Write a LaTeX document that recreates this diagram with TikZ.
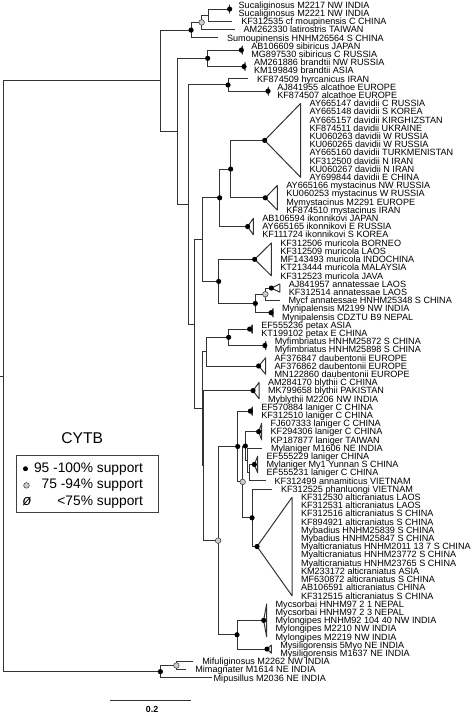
\documentclass[tikz,border=0pt]{standalone}
\usepackage{fontspec}
\setmainfont{Liberation Sans}
\usetikzlibrary{positioning}

\begin{document}
\begin{tikzpicture}[x=1pt, y=-8.21pt,
  branch/.style={draw=black!80, line width=1pt},
  clade/.style={draw=black!80, line width=1pt, line join=round},
  leaf/.style={anchor=west, inner sep=0pt, outer xsep=9pt, outer ysep=0pt,
    text height=6.5pt, text depth=0pt, font=\fontsize{9.1}{10}\selectfont},
  bdot/.style={fill=black},
  gdot/.style={fill=gray!40, draw=black!80, line width=0.5pt}]

  % page frame (pixel units)
  \begin{scope}[y=-1pt, yshift=-3.21pt]
    \useasboundingbox (0,0) rectangle (474,716);
  \end{scope}

  % tip labels
  \node[leaf] (l1) at (229.3,1) {Sucaliginosus M2217 NW INDIA};
  \node[leaf] (l2) at (229.3,2) {Sucaliginosus M2221 NW INDIA};
  \node[leaf] (l3) at (232,3) {KF312535 cf moupinensis C CHINA};
  \node[leaf] (l4) at (234.3,4) {AM262330 latirostris TAIWAN};
  \node[leaf] (l5) at (217.7,5) {Sumoupinensis HNHM26564 S CHINA};
  \node[leaf] (l6) at (242,6) {AB106609 sibiricus JAPAN};
  \node[leaf] (l7) at (242,7) {MG897530 sibiricus C RUSSIA};
  \node[leaf] (l8) at (244.7,8) {AM261886 brandtii NW RUSSIA};
  \node[leaf] (l9) at (244.7,9) {KM199849 brandtii ASIA};
  \node[leaf] (l10) at (247.7,10) {KF874509 hyrcanicus IRAN};
  \node[leaf] (l11) at (268,11) {AJ841955 alcathoe EUROPE};
  \node[leaf] (l12) at (268,12) {KF874507 alcathoe EUROPE};
  \node[leaf] (l13) at (300.3,13) {AY665147 davidii C RUSSIA};
  \node[leaf] (l14) at (300.3,14) {AY665148 davidii S KOREA};
  \node[leaf] (l15) at (300.3,15) {AY665157 davidii KIRGHIZSTAN};
  \node[leaf] (l16) at (300.3,16) {KF874511 davidii UKRAINE};
  \node[leaf] (l17) at (300.3,17) {KU060263 davidii W RUSSIA};
  \node[leaf] (l18) at (300.3,18) {KU060265 davidii W RUSSIA};
  \node[leaf] (l19) at (300.3,19) {AY665160 davidii TURKMENISTAN};
  \node[leaf] (l20) at (300.3,20) {KF312500 davidii N IRAN};
  \node[leaf] (l21) at (300.3,21) {KU060267 davidii N IRAN};
  \node[leaf] (l22) at (300.3,22) {AY699844 davidii E CHINA};
  \node[leaf] (l23) at (277,23) {AY665166 mystacinus NW RUSSIA};
  \node[leaf] (l24) at (277,24) {KU060253 mystacinus W RUSSIA};
  \node[leaf] (l25) at (277,25) {Mymystacinus M2291 EUROPE};
  \node[leaf] (l26) at (277,26) {KF874510 mystacinus IRAN};
  \node[leaf] (l27) at (253,27) {AB106594 ikonnikovi JAPAN};
  \node[leaf] (l28) at (253,28) {AY665165 ikonnikovi E RUSSIA};
  \node[leaf] (l29) at (253,29) {KF111724 ikonnikovi S KOREA};
  \node[leaf] (l30) at (271,30) {KF312506 muricola BORNEO};
  \node[leaf] (l31) at (271,31) {KF312509 muricola LAOS};
  \node[leaf] (l32) at (271,32) {MF143493 muricola INDOCHINA};
  \node[leaf] (l33) at (271,33) {KT213444 muricola MALAYSIA};
  \node[leaf] (l34) at (271,34) {KF312523 muricola JAVA};
  \node[leaf] (l35) at (279.5,35) {AJ841957 annatessae LAOS};
  \node[leaf] (l36) at (279.5,36) {KF312514 annatessae LAOS};
  \node[leaf] (l37) at (279.3,37) {Mycf annatessae HNHM25348 S CHINA};
  \node[leaf] (l38) at (272.7,38) {Mynipalensis M2199 NW INDIA};
  \node[leaf] (l39) at (272.7,39) {Mynipalensis CDZTU B9 NEPAL};
  \node[leaf] (l40) at (252,40) {EF555236 petax ASIA};
  \node[leaf] (l41) at (252,41) {KT199102 petax E CHINA};
  \node[leaf] (l42) at (265.5,42) {Myfimbriatus HNHM25872 S CHINA};
  \node[leaf] (l43) at (265.5,43) {Myfimbriatus HNHM25898 S CHINA};
  \node[leaf] (l44) at (265.3,44) {AF376847 daubentonii EUROPE};
  \node[leaf] (l45) at (265.3,45) {AF376862 daubentonii EUROPE};
  \node[leaf] (l46) at (265.3,46) {MN122860 daubentonii EUROPE};
  \node[leaf] (l47) at (258.7,47) {AM284170 blythii C CHINA};
  \node[leaf] (l48) at (258.7,48) {MK799658 blythii PAKISTAN};
  \node[leaf] (l49) at (258.7,49) {Myblythii M2206 NW INDIA};
  \node[leaf] (l50) at (252,50) {EF570884 laniger C CHINA};
  \node[leaf] (l51) at (252,51) {KF312510 laniger C CHINA};
  \node[leaf] (l52) at (261.3,52) {FJ607333 laniger C CHINA};
  \node[leaf] (l53) at (261.3,53) {KF294306 laniger C CHINA};
  \node[leaf] (l54) at (261.3,54) {KP187877 laniger TAIWAN};
  \node[leaf] (l55) at (261.7,55) {Mylaniger M1606 NE INDIA};
  \node[leaf] (l56) at (257.3,56) {EF555229 laniger CHINA};
  \node[leaf] (l57) at (257.3,57) {Mylaniger My1 Yunnan S CHINA};
  \node[leaf] (l58) at (257.3,58) {EF555231 laniger C CHINA};
  \node[leaf] (l59) at (265.3,59) {KF312499 annamiticus VIETNAM};
  \node[leaf] (l60) at (271.7,60) {KF312525 phanluongi VIETNAM};
  \node[leaf] (l61) at (291.7,61) {KF312530 alticraniatus LAOS};
  \node[leaf] (l62) at (291.7,62) {KF312531 alticraniatus LAOS};
  \node[leaf] (l63) at (291.7,63) {KF312516 alticraniatus S CHINA};
  \node[leaf] (l64) at (291.7,64) {KF894921 alticraniatus S CHINA};
  \node[leaf] (l65) at (291.7,65) {Mybadius HNHM25839 S CHINA};
  \node[leaf] (l66) at (291.7,66) {Mybadius HNHM25847 S CHINA};
  \node[leaf] (l67) at (291.7,67) {Myalticraniatus HNHM2011 13 7 S CHINA};
  \node[leaf] (l68) at (291.7,68) {Myalticraniatus HNHM23772 S CHINA};
  \node[leaf] (l69) at (291.7,69) {Myalticraniatus HNHM23765 S CHINA};
  \node[leaf] (l70) at (291.7,70) {KM233172 alticraniatus ASIA};
  \node[leaf] (l71) at (291.7,71) {MF630872 alticraniatus S CHINA};
  \node[leaf] (l72) at (291.7,72) {AB106591 alticraniatus CHINA};
  \node[leaf] (l73) at (291.7,73) {KF312515 alticraniatus S CHINA};
  \node[leaf] (l74) at (266.3,74) {Mycsorbai HNHM97 2 1 NEPAL};
  \node[leaf] (l75) at (266.3,75) {Mycsorbai HNHM97 2 3 NEPAL};
  \node[leaf] (l76) at (266.3,76) {Mylongipes HNHM92 104 40 NW INDIA};
  \node[leaf] (l77) at (266.3,77) {Mylongipes M2210 NW INDIA};
  \node[leaf] (l78) at (266.3,78) {Mylongipes M2219 NW INDIA};
  \node[leaf] (l79) at (271,79) {Mysiligorensis 5Myo NE INDIA};
  \node[leaf] (l80) at (271,80) {Mysiligorensis M1637 NE INDIA};
  \node[leaf] (l81) at (193,81) {Mifuliginosus M2262 NW INDIA};
  \node[leaf] (l82) at (186,82) {Mimagnater M1614 NE INDIA};
  \node[leaf, outer xsep=2pt] (l83) at (211.3,83) {Mipusillus M2036 NE INDIA};

  % internal nodes
  \coordinate (base) at (0,46.24);
  \coordinate (R0) at (3.3,46.24);
  \coordinate (X) at (160,10.24);
  \coordinate (A) at (190.7,4.0625);
  \coordinate (B) at (201.3,3.125);
  \coordinate (C) at (208.3,2.25);
  \coordinate (D) at (229.3,1.5);
  \coordinate (Y) at (177.3,16.41);
  \coordinate (E) at (207.3,7.5);
  \coordinate (sib) at (241,6.5);
  \coordinate (bra) at (243.7,8.5);
  \coordinate (Z) at (188.3,25.32);
  \coordinate (F) at (227.7,10.75);
  \coordinate (alc) at (267.7,11.5);
  \coordinate (W) at (194.3,39.89);
  \coordinate (I) at (201.7,29.59);
  \coordinate (G) at (219.3,24.5);
  \coordinate (H) at (230.3,21);
  \coordinate (dav) at (264.3,17.5);
  \coordinate (mys) at (265,24.5);
  \coordinate (ik) at (247.3,28);
  \coordinate (J) at (218.3,34.69);
  \coordinate (mur) at (254.3,32);
  \coordinate (K) at (255,37.375);
  \coordinate (L) at (265,36.25);
  \coordinate (ann) at (271,35.5);
  \coordinate (nip) at (270.7,38.5);
  \coordinate (V) at (201.7,50.2);
  \coordinate (Q) at (205.7,43.25);
  \coordinate (PF) at (228.3,41.5);
  \coordinate (pet) at (249.3,40.5);
  \coordinate (fim) at (264.5,42.5);
  \coordinate (dau) at (258.3,45);
  \coordinate (R) at (203.5,57.14);
  \coordinate (bly) at (252.7,48);
  \coordinate (P) at (217.7,66.28);
  \coordinate (M) at (237.3,54.81);
  \coordinate (lanA) at (250,50.5);
  \coordinate (T) at (242.3,59.125);
  \coordinate (U) at (245,54.75);
  \coordinate (lanB) at (258.3,53);
  \coordinate (U1) at (246.7,56.5);
  \coordinate (U2) at (249.3,58);
  \coordinate (lanC) at (254,57);
  \coordinate (S) at (251.7,63.5);
  \coordinate (alt) at (256.7,67);
  \coordinate (N) at (236.7,77.75);
  \coordinate (sor) at (263.3,76);
  \coordinate (sil) at (266.7,79.5);
  \coordinate (O) at (160,82.25);
  \coordinate (O1) at (176,81.5);

  % branches
  \draw[branch] (base) -- (R0);
  \draw[branch] (R0) |- (X) (R0) |- (O);
  \draw[branch] (X) |- (A) (X) |- (Y);
  \draw[branch] (A) |- (B) (A) |- (l5);
  \draw[branch] (B) |- (C) (B) |- (l4);
  \draw[branch] (C) |- (D) (C) |- (l3);
  \draw[branch] (Y) |- (E) (Y) |- (Z);
  \draw[branch] (E) |- (sib) (E) |- (bra);
  \draw[branch] (Z) |- (F) (Z) |- (W);
  \draw[branch] (F) |- (l10) (F) |- (alc);
  \draw[branch] (W) |- (I) (W) |- (V);
  \draw[branch] (I) |- (G) (I) |- (J);
  \draw[branch] (G) |- (H) (G) |- (ik);
  \draw[branch] (H) |- (dav) (H) |- (mys);
  \draw[branch] (J) |- (mur) (J) |- (K);
  \draw[branch] (K) |- (L) (K) |- (nip);
  \draw[branch] (L) |- (ann) (L) |- (l37);
  \draw[branch] (V) |- (Q) (V) |- (R);
  \draw[branch] (Q) |- (PF) (Q) |- (dau);
  \draw[branch] (PF) |- (pet) (PF) |- (fim);
  \draw[branch] (R) |- (bly) (R) |- (P);
  \draw[branch] (P) |- (M) (P) |- (N);
  \draw[branch] (M) |- (lanA) (M) |- (T);
  \draw[branch] (T) |- (U) (T) |- (S);
  \draw[branch] (U) |- (lanB) (U) |- (U1);
  \draw[branch] (U1) |- (l55) (U1) |- (U2);
  \draw[branch] (U2) |- (lanC) (U2) |- (l59);
  \draw[branch] (S) |- (l60) (S) |- (alt);
  \draw[branch] (N) |- (sor) (N) |- (sil);
  \draw[branch] (O) |- (O1) (O) |- (l83);
  \draw[branch] (O1) |- (l81) (O1) |- (l82);

  % collapsed clades
  \draw[clade] (D) -- (l1.west) -- (l2.west) -- cycle;
  \draw[clade] (sib) -- (l6.west) -- (l7.west) -- cycle;
  \draw[clade] (bra) -- (l8.west) -- (l9.west) -- cycle;
  \draw[clade] (alc) -- (l11.west) -- (l12.west) -- cycle;
  \draw[clade] (dav) -- (l13.west) -- (l22.west) -- cycle;
  \draw[clade] (mys) -- (l23.west) -- (l26.west) -- cycle;
  \draw[clade] (ik) -- (l27.west) -- (l29.west) -- cycle;
  \draw[clade] (mur) -- (l30.west) -- (l34.west) -- cycle;
  \draw[clade] (ann) -- (l35.west) -- (l36.west) -- cycle;
  \draw[clade] (nip) -- (l38.west) -- (l39.west) -- cycle;
  \draw[clade] (pet) -- (l40.west) -- (l41.west) -- cycle;
  \draw[clade] (fim) -- (l42.west) -- (l43.west) -- cycle;
  \draw[clade] (dau) -- (l44.west) -- (l46.west) -- cycle;
  \draw[clade] (bly) -- (l47.west) -- (l49.west) -- cycle;
  \draw[clade] (lanA) -- (l50.west) -- (l51.west) -- cycle;
  \draw[clade] (lanB) -- (l52.west) -- (l54.west) -- cycle;
  \draw[clade] (lanC) -- (l56.west) -- (l58.west) -- cycle;
  \draw[clade] (alt) -- (l61.west) -- (l73.west) -- cycle;
  \draw[clade] (sor) -- (l74.west) -- (l78.west) -- cycle;
  \draw[clade] (sil) -- (l79.west) -- (l80.west) -- cycle;

  % support symbols
  \foreach \n in {D,A,E,sib,bra,F,alc,H,G,dav,mys,ik,J,mur,K,ann,nip,PF,pet,fim,dau,bly,lanA,M,U,lanB,lanC,S,alt,N,sor,sil,O}
    \fill[bdot] (\n) circle (2.6pt);
  \foreach \n in {B,L,T,P,O1}
    \filldraw[gdot] (\n) circle (2.8pt);

  % legend and scale bar (pixel units)
  \begin{scope}[y=-1pt, yshift=-3.21pt]
    \node[font=\fontsize{15.6}{18}\selectfont] (title) at (81.7,438.3) {CYTB};
    \draw[black!75, line width=0.6pt] (16,455.7) rectangle (158.3,512.7);
    \fill[bdot] (25,469) circle (2.5pt);
    \filldraw[gdot] (26,485.7) circle (2.8pt);
    \node[font=\fontsize{15}{16}\selectfont\itshape] (nosym) at (26.5,502.3) {ø};
    \node[anchor=east, inner sep=0pt, font=\fontsize{13.8}{16}\selectfont] (s1) at (142.7,469) {95 -100\% support};
    \node[anchor=east, inner sep=0pt, font=\fontsize{13.8}{16}\selectfont] (s2) at (142.7,485.7) {75 -94\% support};
    \node[anchor=east, inner sep=0pt, font=\fontsize{13.8}{16}\selectfont] (s3) at (142.7,502.3) {<75\% support};
    \coordinate (barL) at (110,700.7);
    \coordinate (barR) at (190.7,700.7);
    \draw[black!80, line width=1pt] (barL) -- (barR);
    \node[font=\fontsize{8.8}{10}\selectfont\bfseries] (barlab) at (151.7,710) {0.2};
  \end{scope}
\end{tikzpicture}
\end{document}
